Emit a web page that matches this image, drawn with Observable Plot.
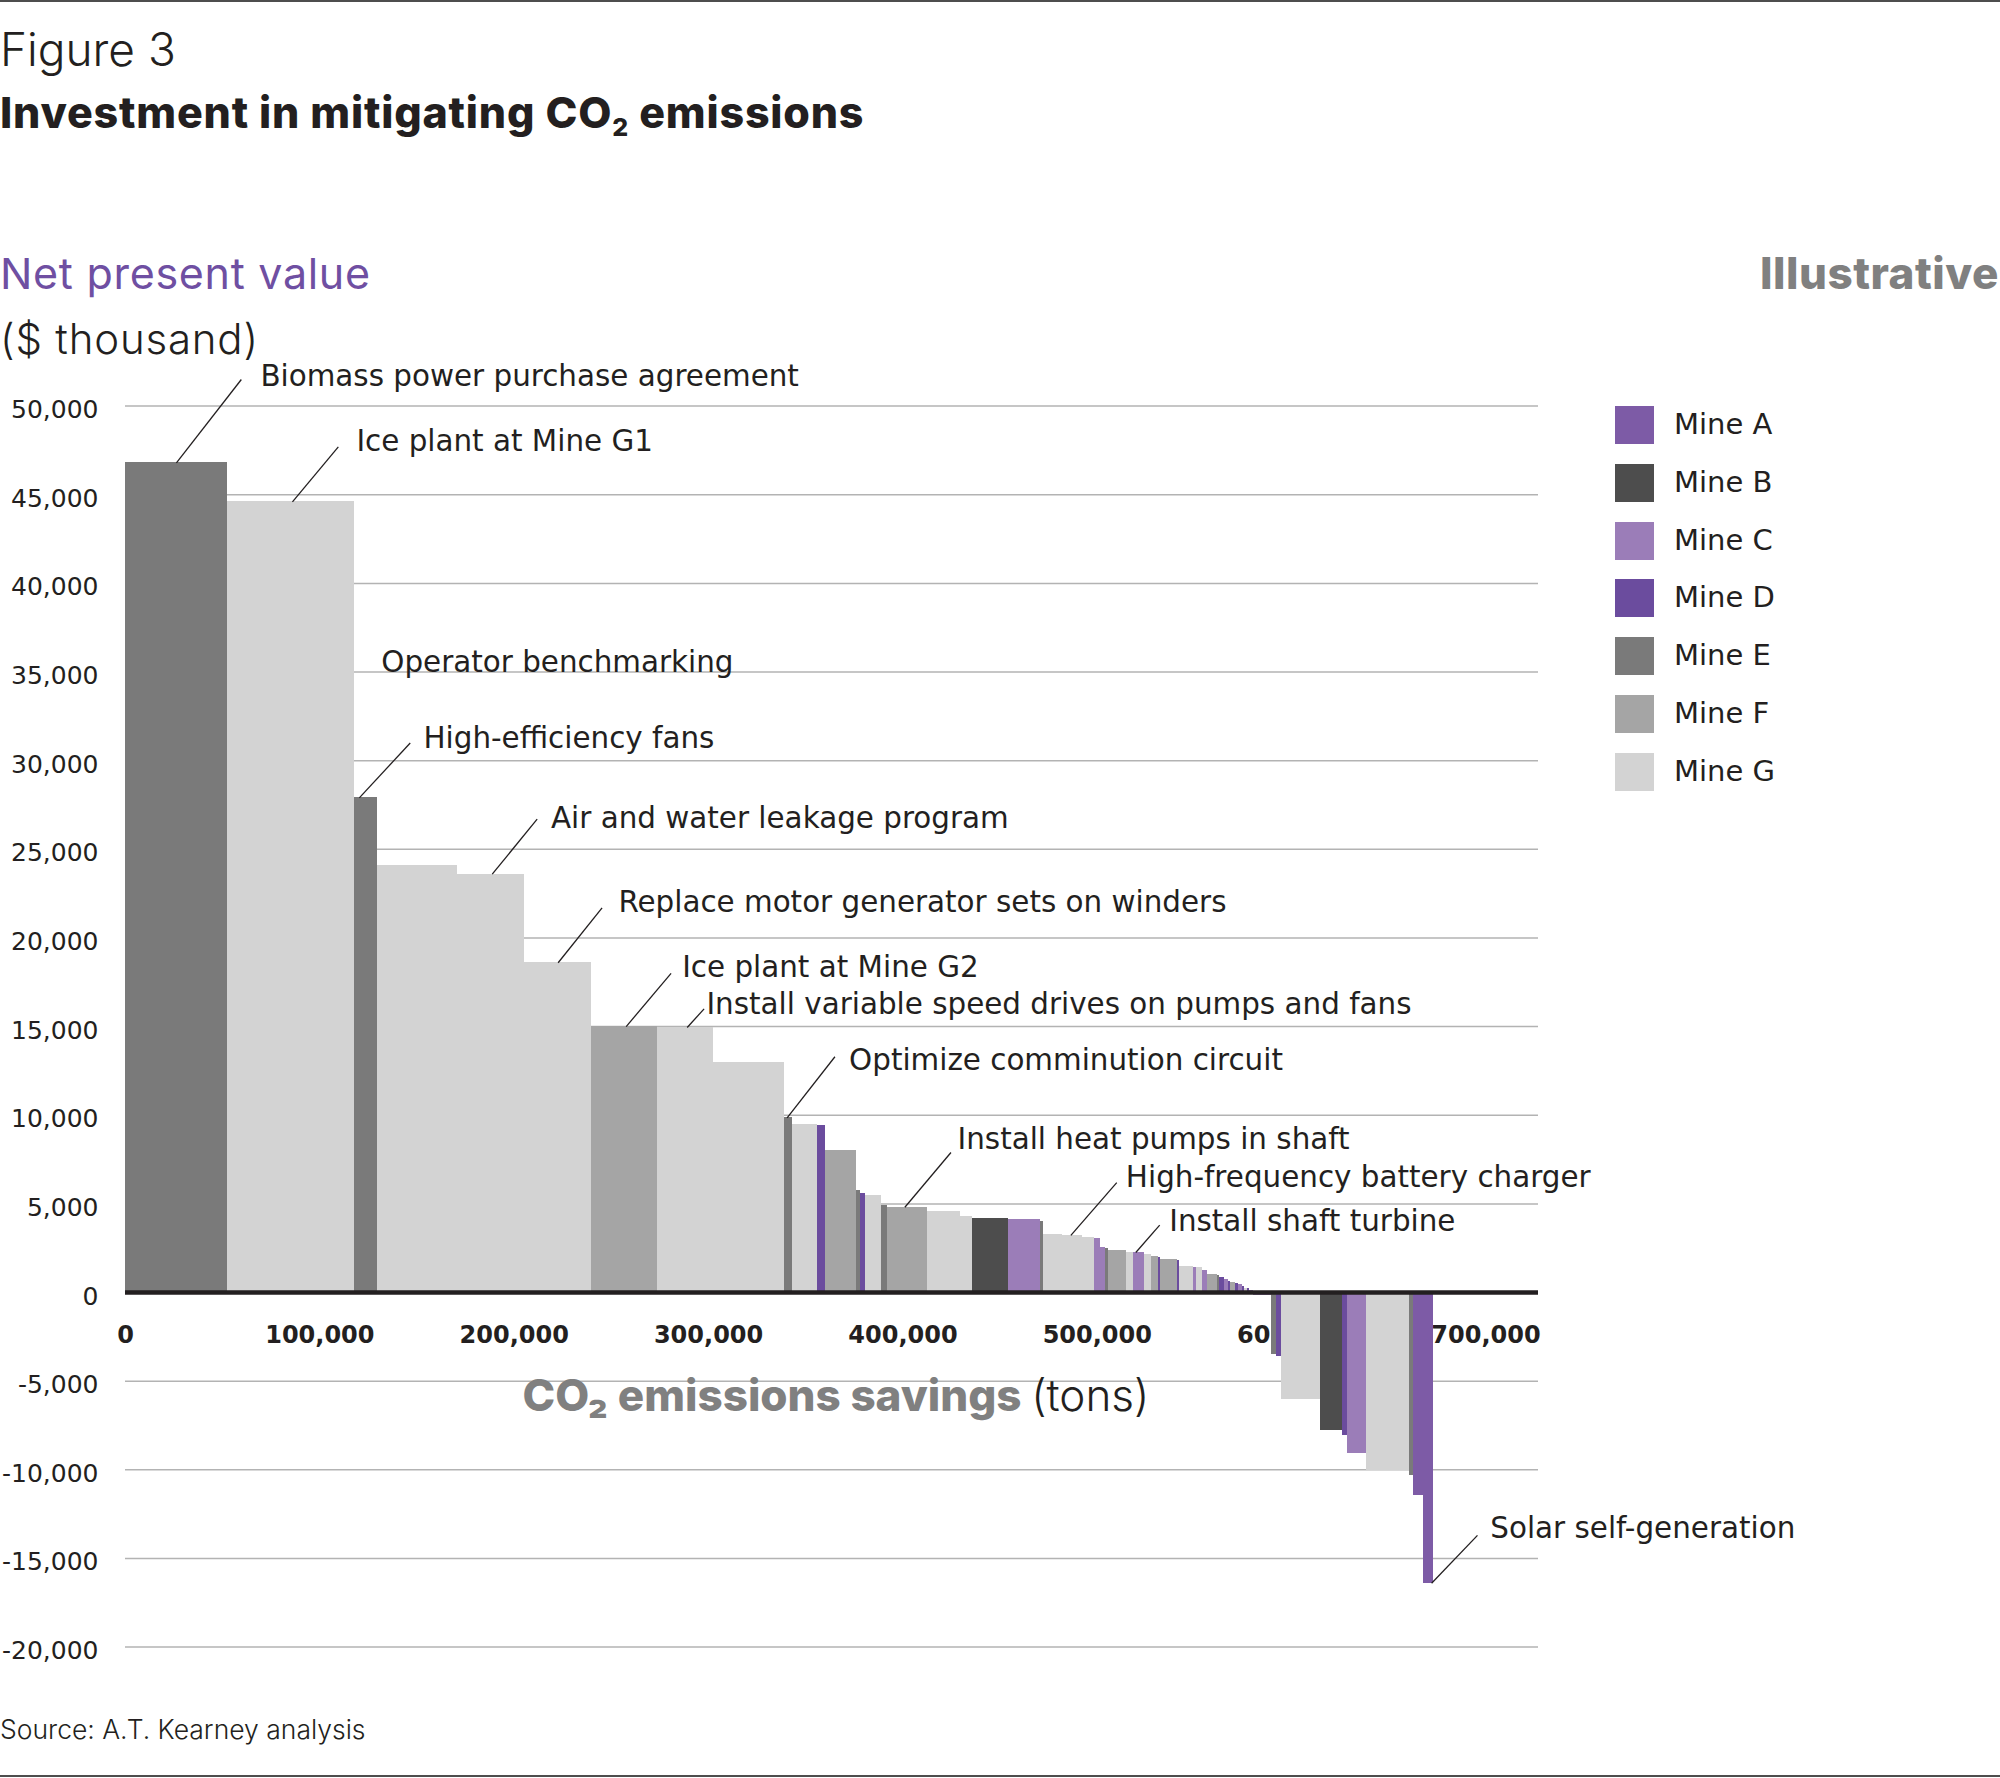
<!DOCTYPE html>
<html>
<head>
<meta charset="utf-8">
<script src="https://cdn.jsdelivr.net/npm/d3@7"></script>
<script src="https://cdn.jsdelivr.net/npm/@observablehq/plot@0.6"></script>
<style>
  html, body { margin: 0; padding: 0; background: #fff; }
  #page { position: relative; width: 2000px; height: 1778px; overflow: hidden;
          font-family: Inter, "DejaVu Sans", sans-serif; color: #231f20; }
  .abs { position: absolute; white-space: nowrap; line-height: 1; }
  #topRule { position: absolute; left: 0; top: 0; width: 2000px; height: 2px; background: #4d4d4d; }
  #bottomRule { position: absolute; left: 0; top: 1775px; width: 2000px; height: 2px; background: #4d4d4d; }
  #fig { left: 0; top: 26px; font-size: 46px; font-weight: 300; }
  #title { left: 0; top: 91px; font-size: 43px; font-weight: 800; letter-spacing: 0.8px; }
  #title .sub { font-size: 25px; position: relative; top: 8px; }
  #npv { left: 0; top: 252px; font-size: 43px; font-weight: 400; letter-spacing: 0.7px; color: #6f4fa2; }
  #unit { left: 0; top: 318px; font-size: 42px; font-weight: 300; letter-spacing: 0.8px; }
  #illus { right: 1px; top: 251px; font-size: 44px; font-weight: 800; letter-spacing: 0.5px; color: #808080; }
  #source { left: 0; top: 1716px; font-size: 26.5px; font-weight: 300; }
  #chart { position: absolute; left: 0; top: 270px; }
  #legend { position: absolute; left: 1615px; top: 406px; font-family: "DejaVu Sans", sans-serif; }
  .item { position: absolute; left: 0; width: 300px; height: 40px; }
  .swatch { position: absolute; left: 0; top: 0; width: 39px; height: 38px; }
  .lab { position: absolute; left: 59px; top: 4px; font-size: 29px; line-height: 1; white-space: nowrap; }
</style>
</head>
<body>
<div id="page">
  <div id="topRule"></div>
  <div class="abs" id="fig">Figure 3</div>
  <div class="abs" id="title">Investment in mitigating CO<span class="sub">2</span> emissions</div>
  <div class="abs" id="npv">Net present value</div>
  <div class="abs" id="unit">($ thousand)</div>
  <div class="abs" id="illus">Illustrative</div>
  <div id="chart"></div>
  <div id="legend"></div>
  <div class="abs" id="source">Source: A.T. Kearney analysis</div>
  <div id="bottomRule"></div>
</div>
<script>
// Mines and their colours
const mines = ["Mine A", "Mine B", "Mine C", "Mine D", "Mine E", "Mine F", "Mine G"];
const mineColors = ["#7d5ba6", "#4d4d4d", "#9b7db8", "#6b4c9e", "#7a7a7a", "#a5a5a5", "#d3d3d3"];

// Abatement options in merit order: CO2 saved by each option (tons)
const savings = [
  52400, 65600, 11800, 41000, 34700, 34500, 33500, 29000, 36800, 4000,
  12800, 3800, 16300, 2200, 2200, 8400, 3100, 20600, 17100, 6200,
  18100, 16500, 1700, 9800, 10300, 6300, 2700, 3000, 1400, 9400,
  3200, 5700, 3800, 3600, 1100, 8900, 900, 7000, 1800, 2900,
  2600, 5100, 1200, 2200, 2100, 1300, 2600, 1200, 2200, 1200,
  1700, 1000, 1800, 9200, 2600, 2600, 19900, 11800, 2200, 10000,
  21900, 2200, 5000, 5500
];
// Net present value of each option ($ thousand)
const npv = [
  46800, 44600, 27900, 24100, 23600, 18600, 15000, 14950, 13000, 9850,
  9500, 9400, 8000, 5750, 5570, 5470, 4890, 4810, 4570, 4310,
  4170, 4120, 3990, 3270, 3220, 3080, 3030, 2560, 2460, 2390,
  2260, 2260, 2140, 2050, 2000, 1880, 1800, 1490, 1430, 1390,
  1240, 1000, 960, 830, 720, 620, 570, 490, 450, 340,
  230, 200, 100, -170, -3510, -3600, -6060, -7770, -8050, -9100,
  -10020, -10340, -11440, -16400
];
// Mine that carries each option
const mineCode = [
  "E","G","E","G","G","G","F","G","G","E",
  "G","D","F","E","D","G","E","F","G","G",
  "B","C","E","G","G","G","C","C","E","F",
  "G","C","G","F","D","F","D","G","C","G",
  "C","F","E","D","C","D","F","D","C","D",
  "G","D","C","C","E","D","G","B","D","C",
  "G","E","A","A"
];

// Axis ticks
const xTicks = [0, 100000, 200000, 300000, 400000, 500000, 600000, 700000];
const yTicks = [50000, 45000, 40000, 35000, 30000, 25000, 20000, 15000, 10000, 5000, 0, -5000, -10000, -15000, -20000];

// Named options and the bar each one belongs to
const labels = [
  "Biomass power purchase agreement", "Ice plant at Mine G1", "Operator benchmarking",
  "High-efficiency fans", "Air and water leakage program", "Replace motor generator sets on winders",
  "Ice plant at Mine G2", "Install variable speed drives on pumps and fans", "Optimize comminution circuit",
  "Install heat pumps in shaft", "High-frequency battery charger", "Install shaft turbine", "Solar self-generation"
];
const labelBar = [0, 1, 3, 2, 4, 5, 6, 7, 9, 17, 24, 31, 63];

// Label placement (data units): leader start x, leader end, text point
const labelLayout = [
  {lx: 26200,  ex: 59600,  ey: 51500,  tx: 69400,  ty: 51650},
  {lx: 85900,  ex: 109500, ey: 47700,  tx: 118800, ty: 47980},
  {lx: null,   ex: null,   ey: null,   tx: 131600, ty: 35530},
  {lx: 120300, ex: 146500, ey: 31000,  tx: 153300, ty: 31220},
  {lx: 188700, ex: 211800, ey: 26700,  tx: 218900, ty: 26760},
  {lx: 222600, ex: 245200, ey: 21700,  tx: 253600, ty: 22010},
  {lx: 257600, ex: 280700, ey: 18000,  tx: 286400, ty: 18340},
  {lx: 289000, ex: 297700, ey: 16000,  tx: 298900, ty: 16250},
  {lx: 340400, ex: 365000, ey: 13300,  tx: 372300, ty: 13090},
  {lx: 401000, ex: 424700, ey: 7900,   tx: 428100, ty: 8630},
  {lx: 486400, ex: 510000, ey: 6200,   tx: 514700, ty: 6470},
  {lx: 519800, ex: 532100, ey: 3800,   tx: 537000, ty: 4020},
  {lx: 672000, ex: 695600, ey: -13700, tx: 702200, ty: -13310}
];

// Bars laid end to end along the cumulative savings axis
const ends = d3.cumsum(savings);
const bars = savings.map((s, i) => ({
  x0: ends[i] - s,
  x1: ends[i],
  npv: npv[i],
  mine: "Mine " + mineCode[i]
}));

const notes = labels.map((text, i) => ({
  text,
  ...labelLayout[i],
  ly: npv[labelBar[i]]
}));
const leaders = notes.filter(d => d.lx !== null);

const ink = "#231f20";
const chart = Plot.plot({
  width: 2000,
  height: 1450,
  marginLeft: 125,
  marginRight: 462,
  marginTop: 135.6,
  marginBottom: 73.4,
  x: {domain: [0, 727000], axis: null},
  y: {domain: [-20000, 50000], axis: null},
  color: {domain: mines, range: mineColors},
  style: {fontFamily: "'DejaVu Sans', sans-serif", color: ink, background: "transparent", overflow: "visible"},
  marks: [
    // horizontal grid
    Plot.ruleY(yTicks.filter(d => d !== 0), {stroke: "#b3b3b3", strokeWidth: 1.5}),
    // x tick labels sit just under the zero line, beneath the bars
    Plot.text(xTicks, {
      x: d => d, y: 0, dy: 43,
      text: d => d.toLocaleString("en-US"),
      fontSize: 24, fontWeight: "bold", fill: ink
    }),
    // the options
    Plot.rectY(bars, {x1: "x0", x2: "x1", y: "npv", fill: "mine", shapeRendering: "crispEdges"}),
    // zero baseline
    Plot.ruleY([0], {stroke: ink, strokeWidth: 4.5}),
    // y tick labels
    Plot.text(yTicks, {
      x: 0, y: d => d, dx: -27, dy: 4,
      text: d => d.toLocaleString("en-US"),
      textAnchor: "end", fontSize: 25, fill: ink
    }),
    // leader lines and option names
    Plot.link(leaders, {x1: "lx", y1: "ly", x2: "ex", y2: "ey", stroke: ink, strokeWidth: 1.3}),
    Plot.text(notes, {x: "tx", y: "ty", text: "text", textAnchor: "start", fontSize: 29.4, fill: ink}),
    // axis title
    Plot.text(["CO₂ emissions savings"], {
      x: 461000, y: -5900, text: d => d, textAnchor: "end",
      fontSize: 44, fontWeight: 800, fill: "#808080", fontFamily: "Inter, 'DejaVu Sans', sans-serif"
    }),
    Plot.text(["(tons)"], {
      x: 466000, y: -5900, text: d => d, textAnchor: "start",
      fontSize: 44, fontWeight: 300, fill: ink, fontFamily: "Inter, 'DejaVu Sans', sans-serif"
    })
  ]
});
document.getElementById("chart").appendChild(chart);

// Legend: one swatch per mine from the plot's colour scale
const color = chart.scale("color");
const legend = d3.select("#legend");
color.domain.forEach((m, i) => {
  const item = legend.append("div").attr("class", "item").style("top", (i * 57.8) + "px");
  item.append("div").attr("class", "swatch").style("background", color.range[i]);
  item.append("div").attr("class", "lab").text(m);
});
</script>
</body>
</html>
